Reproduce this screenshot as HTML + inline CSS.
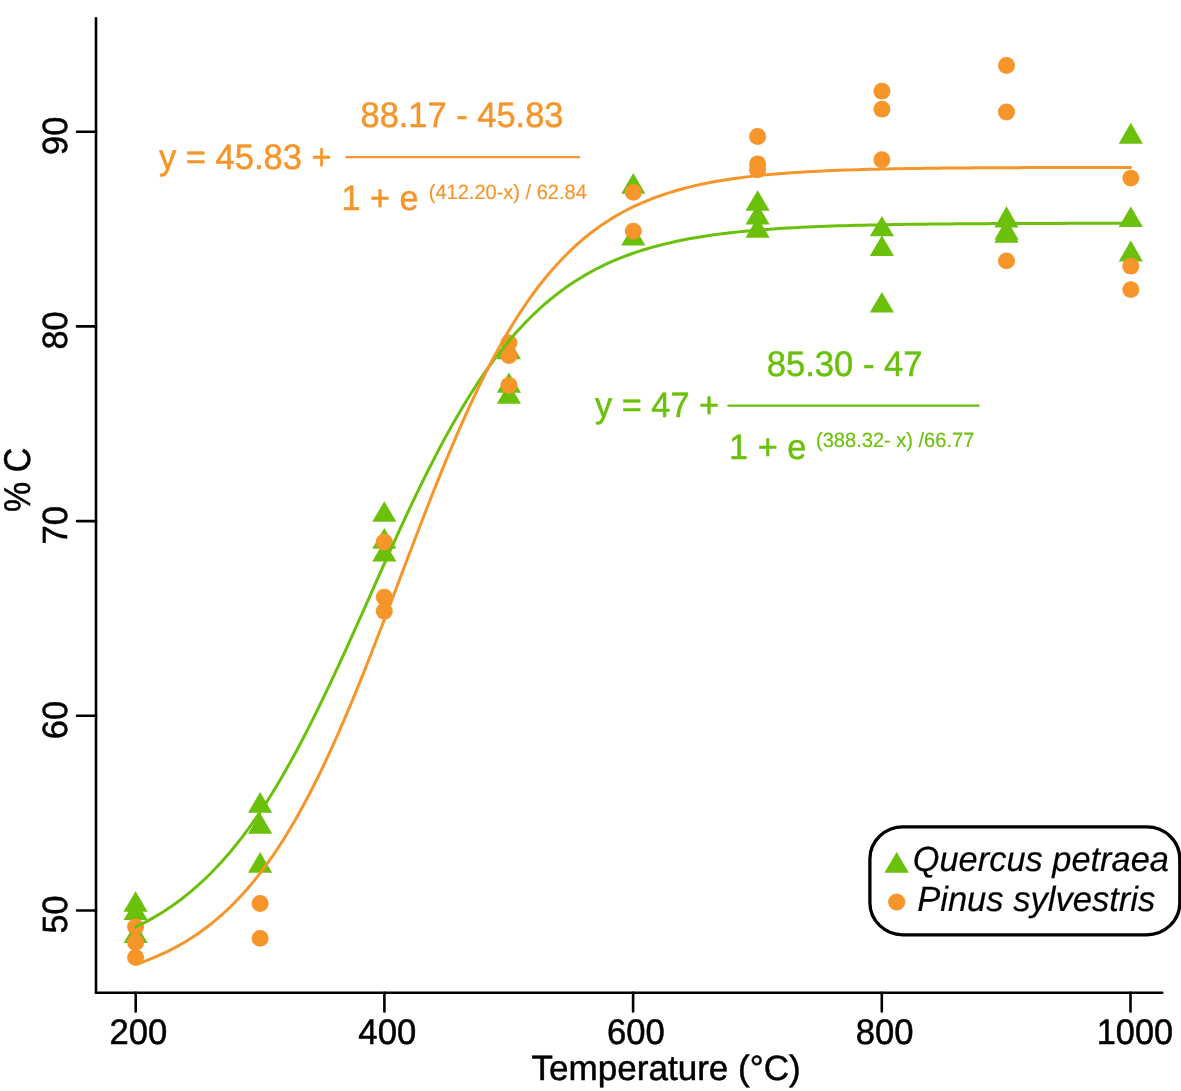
<!DOCTYPE html>
<html lang="en">
<head>
<meta charset="utf-8">
<title>% C vs Temperature</title>
<style>
html,body{margin:0;padding:0;background:#fff;}
body{width:1181px;height:1091px;overflow:hidden;}
svg{display:block;}
text{font-family:"Liberation Sans",Arial,Helvetica,sans-serif;text-rendering:geometricPrecision;}
.it{font-style:italic;}
</style>
</head>
<body>
<svg width="1181" height="1091" viewBox="0 0 1181 1091">
<rect x="0" y="0" width="1181" height="1091" fill="#ffffff"/>

<g id="oak-points">
<polygon points="135.6,891.3 123.5,911.7 147.7,911.7" fill="#6ac00b"/>
<polygon points="135.6,899.7 123.5,920.1 147.7,920.1" fill="#6ac00b"/>
<polygon points="135.6,922.6 123.5,943.0 147.7,943.0" fill="#6ac00b"/>
<polygon points="260.1,792.0 248.0,812.7 272.2,812.7" fill="#6ac00b"/>
<polygon points="260.1,813.1 248.0,833.8 272.2,833.8" fill="#6ac00b"/>
<polygon points="260.1,851.9 248.0,872.8 272.2,872.8" fill="#6ac00b"/>
<polygon points="384.3,501.3 372.2,521.8 396.4,521.8" fill="#6ac00b"/>
<polygon points="384.3,527.9 372.2,548.8 396.4,548.8" fill="#6ac00b"/>
<polygon points="384.3,540.8 372.2,561.4 396.4,561.4" fill="#6ac00b"/>
<polygon points="508.9,338.6 496.8,359.3 521.0,359.3" fill="#6ac00b"/>
<polygon points="508.9,372.5 496.8,392.7 521.0,392.7" fill="#6ac00b"/>
<polygon points="508.9,383.2 496.8,403.8 521.0,403.8" fill="#6ac00b"/>
<polygon points="633.3,173.1 621.2,193.8 645.4,193.8" fill="#6ac00b"/>
<polygon points="633.3,224.8 621.2,245.5 645.4,245.5" fill="#6ac00b"/>
<polygon points="757.6,190.2 745.5,210.7 769.7,210.7" fill="#6ac00b"/>
<polygon points="757.6,204.0 745.5,224.6 769.7,224.6" fill="#6ac00b"/>
<polygon points="757.6,217.0 745.5,237.7 769.7,237.7" fill="#6ac00b"/>
<polygon points="881.9,215.9 869.8,236.2 894.0,236.2" fill="#6ac00b"/>
<polygon points="881.9,235.4 869.8,255.9 894.0,255.9" fill="#6ac00b"/>
<polygon points="881.9,292.1 869.8,312.4 894.0,312.4" fill="#6ac00b"/>
<polygon points="1006.5,206.2 994.4,227.5 1018.6,227.5" fill="#6ac00b"/>
<polygon points="1006.5,219.0 994.4,239.8 1018.6,239.8" fill="#6ac00b"/>
<polygon points="1006.5,222.0 994.4,242.8 1018.6,242.8" fill="#6ac00b"/>
<polygon points="1130.8,122.8 1118.7,143.8 1142.9,143.8" fill="#6ac00b"/>
<polygon points="1130.8,206.5 1118.7,227.1 1142.9,227.1" fill="#6ac00b"/>
<polygon points="1130.8,240.6 1118.7,261.4 1142.9,261.4" fill="#6ac00b"/>
</g>
<g id="pine-points">
<ellipse cx="135.6" cy="926.9" rx="8.5" ry="8.4" fill="#f5952a"/>
<ellipse cx="135.6" cy="942.5" rx="8.5" ry="8.4" fill="#f5952a"/>
<ellipse cx="135.6" cy="957.4" rx="8.5" ry="8.4" fill="#f5952a"/>
<ellipse cx="260.1" cy="903.5" rx="8.5" ry="8.4" fill="#f5952a"/>
<ellipse cx="260.1" cy="938.4" rx="8.5" ry="8.4" fill="#f5952a"/>
<ellipse cx="384.3" cy="542.0" rx="8.5" ry="8.4" fill="#f5952a"/>
<ellipse cx="384.3" cy="597.2" rx="8.5" ry="8.4" fill="#f5952a"/>
<ellipse cx="384.3" cy="611.3" rx="8.5" ry="8.4" fill="#f5952a"/>
<ellipse cx="508.9" cy="343.0" rx="8.5" ry="8.4" fill="#f5952a"/>
<ellipse cx="508.9" cy="355.6" rx="8.5" ry="8.4" fill="#f5952a"/>
<ellipse cx="508.9" cy="385.3" rx="8.5" ry="8.4" fill="#f5952a"/>
<ellipse cx="633.3" cy="192.4" rx="8.5" ry="8.4" fill="#f5952a"/>
<ellipse cx="633.3" cy="231.1" rx="8.5" ry="8.4" fill="#f5952a"/>
<ellipse cx="757.6" cy="136.5" rx="8.5" ry="8.4" fill="#f5952a"/>
<ellipse cx="757.6" cy="163.8" rx="8.5" ry="8.4" fill="#f5952a"/>
<ellipse cx="757.6" cy="169.9" rx="8.5" ry="8.4" fill="#f5952a"/>
<ellipse cx="881.9" cy="91.2" rx="8.5" ry="8.4" fill="#f5952a"/>
<ellipse cx="881.9" cy="109.2" rx="8.5" ry="8.4" fill="#f5952a"/>
<ellipse cx="881.9" cy="159.7" rx="8.5" ry="8.4" fill="#f5952a"/>
<ellipse cx="1006.5" cy="65.5" rx="8.5" ry="8.4" fill="#f5952a"/>
<ellipse cx="1006.5" cy="112.0" rx="8.5" ry="8.4" fill="#f5952a"/>
<ellipse cx="1006.5" cy="260.9" rx="8.5" ry="8.4" fill="#f5952a"/>
<ellipse cx="1130.8" cy="178.1" rx="8.5" ry="8.4" fill="#f5952a"/>
<ellipse cx="1130.8" cy="266.2" rx="8.5" ry="8.4" fill="#f5952a"/>
<ellipse cx="1130.8" cy="289.6" rx="8.5" ry="8.4" fill="#f5952a"/>
</g>
<polyline points="135.70,926.98 141.92,923.92 148.13,920.64 154.35,917.15 160.57,913.43 166.79,909.45 173.00,905.23 179.22,900.73 185.44,895.94 191.66,890.86 197.88,885.47 204.09,879.76 210.31,873.71 216.53,867.32 222.75,860.57 228.96,853.45 235.18,845.95 241.40,838.07 247.62,829.79 253.83,821.12 260.05,812.04 266.27,802.57 272.49,792.69 278.70,782.41 284.92,771.75 291.14,760.69 297.36,749.27 303.57,737.49 309.79,725.38 316.01,712.94 322.23,700.21 328.44,687.21 334.66,673.97 340.88,660.52 347.10,646.89 353.31,633.13 359.53,619.26 365.75,605.33 371.97,591.37 378.18,577.42 384.40,563.53 390.62,549.73 396.83,536.05 403.05,522.54 409.27,509.23 415.49,496.15 421.70,483.32 427.92,470.79 434.14,458.56 440.36,446.67 446.57,435.13 452.79,423.96 459.01,413.16 465.23,402.76 471.44,392.75 477.66,383.14 483.88,373.93 490.10,365.13 496.31,356.72 502.53,348.71 508.75,341.09 514.97,333.84 521.18,326.97 527.40,320.46 533.62,314.30 539.84,308.48 546.06,302.99 552.27,297.81 558.49,292.93 564.71,288.34 570.92,284.02 577.14,279.97 583.36,276.16 589.58,272.60 595.80,269.25 602.01,266.12 608.23,263.19 614.45,260.45 620.66,257.89 626.88,255.50 633.10,253.26 639.32,251.17 645.54,249.23 651.75,247.41 657.97,245.72 664.19,244.14 670.40,242.67 676.62,241.30 682.84,240.02 689.06,238.83 695.28,237.73 701.49,236.70 707.71,235.74 713.93,234.85 720.14,234.03 726.36,233.26 732.58,232.54 738.80,231.87 745.02,231.26 751.23,230.68 757.45,230.15 763.67,229.65 769.88,229.19 776.10,228.76 782.32,228.36 788.54,227.99 794.76,227.65 800.97,227.33 807.19,227.04 813.41,226.76 819.62,226.51 825.84,226.27 832.06,226.05 838.28,225.85 844.50,225.66 850.71,225.48 856.93,225.32 863.15,225.16 869.37,225.02 875.58,224.89 881.80,224.77 888.02,224.66 894.24,224.55 900.45,224.46 906.67,224.37 912.89,224.28 919.11,224.21 925.32,224.14 931.54,224.07 937.76,224.01 943.97,223.95 950.19,223.90 956.41,223.85 962.63,223.80 968.85,223.76 975.06,223.72 981.28,223.68 987.50,223.65 993.71,223.62 999.93,223.59 1006.15,223.56 1012.37,223.53 1018.59,223.51 1024.80,223.49 1031.02,223.47 1037.24,223.45 1043.45,223.43 1049.67,223.42 1055.89,223.40 1062.11,223.39 1068.33,223.37 1074.54,223.36 1080.76,223.35 1086.98,223.34 1093.19,223.33 1099.41,223.32 1105.63,223.31 1111.85,223.31 1118.07,223.30 1124.28,223.29 1130.50,223.29" fill="none" stroke="#6ac00b" stroke-width="3.0" stroke-linecap="round" stroke-linejoin="round"/>
<polyline points="135.70,964.46 141.92,962.29 148.13,959.95 154.35,957.43 160.57,954.72 166.79,951.80 173.00,948.67 179.22,945.31 185.44,941.70 191.66,937.83 197.88,933.69 204.09,929.25 210.31,924.50 216.53,919.42 222.75,914.00 228.96,908.22 235.18,902.06 241.40,895.50 247.62,888.53 253.83,881.13 260.05,873.29 266.27,864.99 272.49,856.22 278.70,846.97 284.92,837.23 291.14,827.00 297.36,816.26 303.57,805.02 309.79,793.28 316.01,781.05 322.23,768.33 328.44,755.14 334.66,741.50 340.88,727.42 347.10,712.93 353.31,698.07 359.53,682.86 365.75,667.35 371.97,651.57 378.18,635.57 384.40,619.40 390.62,603.10 396.83,586.72 403.05,570.33 409.27,553.96 415.49,537.68 421.70,521.52 427.92,505.54 434.14,489.80 440.36,474.32 446.57,459.15 452.79,444.33 459.01,429.89 465.23,415.86 471.44,402.27 477.66,389.14 483.88,376.48 490.10,364.30 496.31,352.62 502.53,341.45 508.75,330.77 514.97,320.59 521.18,310.91 527.40,301.72 533.62,293.01 539.84,284.77 546.06,276.98 552.27,269.63 558.49,262.71 564.71,256.20 570.92,250.09 577.14,244.35 583.36,238.97 589.58,233.94 595.80,229.22 602.01,224.82 608.23,220.71 614.45,216.87 620.66,213.29 626.88,209.96 633.10,206.86 639.32,203.97 645.54,201.28 651.75,198.78 657.97,196.46 664.19,194.31 670.40,192.31 676.62,190.45 682.84,188.73 689.06,187.13 695.28,185.65 701.49,184.28 707.71,183.01 713.93,181.83 720.14,180.74 726.36,179.73 732.58,178.79 738.80,177.93 745.02,177.13 751.23,176.38 757.45,175.70 763.67,175.06 769.88,174.48 776.10,173.94 782.32,173.43 788.54,172.97 794.76,172.54 800.97,172.15 807.19,171.78 813.41,171.44 819.62,171.13 825.84,170.84 832.06,170.57 838.28,170.32 844.50,170.10 850.71,169.89 856.93,169.69 863.15,169.51 869.37,169.34 875.58,169.19 881.80,169.05 888.02,168.92 894.24,168.80 900.45,168.68 906.67,168.58 912.89,168.49 919.11,168.40 925.32,168.32 931.54,168.24 937.76,168.17 943.97,168.11 950.19,168.05 956.41,167.99 962.63,167.94 968.85,167.89 975.06,167.85 981.28,167.81 987.50,167.78 993.71,167.74 999.93,167.71 1006.15,167.68 1012.37,167.65 1018.59,167.63 1024.80,167.61 1031.02,167.59 1037.24,167.57 1043.45,167.55 1049.67,167.53 1055.89,167.52 1062.11,167.50 1068.33,167.49 1074.54,167.48 1080.76,167.47 1086.98,167.45 1093.19,167.45 1099.41,167.44 1105.63,167.43 1111.85,167.42 1118.07,167.41 1124.28,167.41 1130.50,167.40" fill="none" stroke="#f5952a" stroke-width="3.0" stroke-linecap="round" stroke-linejoin="round"/>
<g stroke="#000" stroke-width="2.6" stroke-linecap="round" fill="none">
<line x1="96.0" y1="18.2" x2="96.0" y2="992.7"/>
<line x1="96.0" y1="992.7" x2="1162.3" y2="992.7"/>
<line x1="135.7" y1="992.7" x2="135.7" y2="1011.5"/>
<line x1="384.4" y1="992.7" x2="384.4" y2="1011.5"/>
<line x1="633.1" y1="992.7" x2="633.1" y2="1011.5"/>
<line x1="881.8" y1="992.7" x2="881.8" y2="1011.5"/>
<line x1="1130.5" y1="992.7" x2="1130.5" y2="1011.5"/>
<line x1="77.0" y1="910.5" x2="96.0" y2="910.5"/>
<line x1="77.0" y1="715.8" x2="96.0" y2="715.8"/>
<line x1="77.0" y1="521.1" x2="96.0" y2="521.1"/>
<line x1="77.0" y1="326.4" x2="96.0" y2="326.4"/>
<line x1="77.0" y1="131.7" x2="96.0" y2="131.7"/>
</g>
<text transform="translate(109.42,1044.10) scale(0.9752,1)" font-size="35.50" fill="#000" stroke="#000" stroke-width="0.5">200</text>
<text transform="translate(358.37,1044.10) scale(0.9761,1)" font-size="35.50" fill="#000" stroke="#000" stroke-width="0.5">400</text>
<text transform="translate(606.92,1044.10) scale(0.9752,1)" font-size="35.50" fill="#000" stroke="#000" stroke-width="0.5">600</text>
<text transform="translate(855.78,1044.10) scale(0.9759,1)" font-size="35.50" fill="#000" stroke="#000" stroke-width="0.5">800</text>
<text transform="translate(1096.78,1044.10) scale(0.9652,1)" font-size="35.50" fill="#000" stroke="#000" stroke-width="0.5">1000</text>
<text transform="translate(531.56,1079.50) scale(0.9961,1)" font-size="35.20" fill="#000" stroke="#000" stroke-width="0.5">Temperature (°C)</text>
<text transform="translate(66.90,933.52) rotate(-90) scale(0.9768,1)" font-size="35.00" fill="#000" stroke="#000" stroke-width="0.5">50</text>
<text transform="translate(66.90,739.18) rotate(-90) scale(0.9864,1)" font-size="35.00" fill="#000" stroke="#000" stroke-width="0.5">60</text>
<text transform="translate(66.90,544.57) rotate(-90) scale(0.9888,1)" font-size="35.00" fill="#000" stroke="#000" stroke-width="0.5">70</text>
<text transform="translate(66.90,349.51) rotate(-90) scale(0.9792,1)" font-size="35.00" fill="#000" stroke="#000" stroke-width="0.5">80</text>
<text transform="translate(66.90,154.99) rotate(-90) scale(0.9840,1)" font-size="35.00" fill="#000" stroke="#000" stroke-width="0.5">90</text>
<text transform="translate(30.40,511.94) rotate(-90) scale(0.9123,1)" font-size="37.20" fill="#000" stroke="#000" stroke-width="0.5">% C</text>
<text transform="translate(159.01,168.70) scale(0.9745,1)" font-size="35.40" fill="#f5952a" stroke="#f5952a" stroke-width="0.5">y = 45.83 +</text>
<text transform="translate(360.49,127.20) scale(0.9733,1)" font-size="35.40" fill="#f5952a" stroke="#f5952a" stroke-width="0.5">88.17 - 45.83</text>
<text transform="translate(341.59,209.70) scale(0.9657,1)" font-size="35.40" fill="#f5952a" stroke="#f5952a" stroke-width="0.5">1 + e</text>
<text transform="translate(428.72,198.90) scale(0.9727,1)" font-size="20.60" fill="#f5952a" stroke="#f5952a" stroke-width="0.15">(412.20-x) / 62.84</text>
<line x1="346.5" y1="157.1" x2="579.0" y2="157.1" stroke="#f5952a" stroke-width="2.4" stroke-linecap="round"/>
<text transform="translate(595.06,416.80) scale(0.9698,1)" font-size="35.40" fill="#6ac00b" stroke="#6ac00b" stroke-width="0.5">y = 47 +</text>
<text transform="translate(766.73,375.60) scale(0.9778,1)" font-size="35.40" fill="#6ac00b" stroke="#6ac00b" stroke-width="0.5">85.30 - 47</text>
<text transform="translate(729.08,458.50) scale(0.9697,1)" font-size="35.40" fill="#6ac00b" stroke="#6ac00b" stroke-width="0.5">1 + e</text>
<text transform="translate(816.02,447.00) scale(0.9737,1)" font-size="20.60" fill="#6ac00b" stroke="#6ac00b" stroke-width="0.15">(388.32- x) /66.77</text>
<line x1="728.4" y1="405.6" x2="978.5" y2="405.6" stroke="#6ac00b" stroke-width="2.4" stroke-linecap="round"/>
<rect x="869.9" y="826.9" width="309.9" height="107.9" rx="33" ry="32" fill="#fff" stroke="#000" stroke-width="3.3"/>
<polygon points="896.7,851.9 884.4,872.8 908.9,872.8" fill="#6ac00b"/>
<ellipse cx="896.7" cy="902.0" rx="8.6" ry="8.6" fill="#f5952a"/>
<text class="it" transform="translate(912.73,870.80) scale(0.9828,1)" font-size="35.00" fill="#000" stroke="#000" stroke-width="0.2">Quercus petraea</text>
<text class="it" transform="translate(917.16,911.00) scale(0.9871,1)" font-size="35.00" fill="#000" stroke="#000" stroke-width="0.2">Pinus sylvestris</text>
</svg>
</body>
</html>
